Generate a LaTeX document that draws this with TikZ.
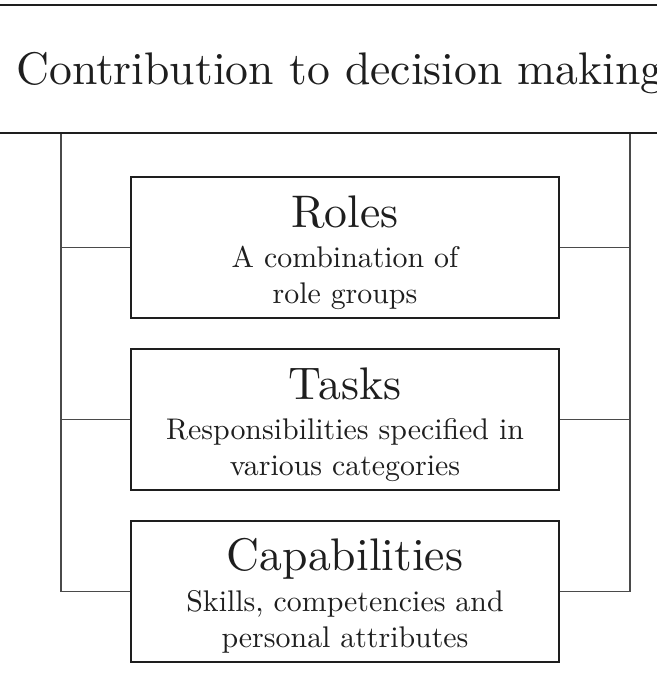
\documentclass[tikz,border=0pt]{standalone}
\usepackage{fontspec}
\setmainfont{lmroman10-regular.otf}
\definecolor{ink}{HTML}{1E1E1E}
\definecolor{rule}{HTML}{4A4A4A}
\newcommand{\stagehead}[1]{{\fontsize{26}{30}\selectfont\rule{0pt}{28.5pt}#1}}
\newcommand{\stagefoot}{\rule[-8.5pt]{0pt}{8.5pt}}
\begin{document}
\begin{tikzpicture}[x=0.02cm,y=-0.02cm,node distance=3.44cm]
	\useasboundingbox (0,0) rectangle (656,688);
	\tikzstyle{banner}=[draw=ink, line width=1.2pt, minimum width=14cm, minimum height=2.56cm, inner sep=0pt, text height=20pt, text depth=1.8pt, text=ink, font=\fontsize{26}{30}\selectfont]
	\tikzstyle{stage}=[draw=ink, line width=1.1pt, minimum width=8.56cm, minimum height=2.82cm, inner sep=0pt, align=center, text=ink, font=\fontsize{17}{20}\selectfont]
	\tikzstyle{link}=[draw=rule, line width=0.8pt]
	\node[banner] (title) at (340,69) {Contribution to decision making};
	\node[stage] (roles) at (345,247.5) {\stagehead{Roles}\\[3.3pt] A combination of\\ role groups\stagefoot};
	\node[stage, below of=roles] (tasks) {\stagehead{Tasks}\\[3.3pt] Responsibilities specified in\\ various categories\stagefoot};
	\node[stage, below of=tasks] (capab) {\stagehead{Capabilities}\\[3.3pt] Skills, competencies and\\ personal attributes\stagefoot};
	
	\coordinate (lx) at (61,0);
	\coordinate (rx) at (630,0);
	\begin{scope}[link]
		\draw	(lx |- title.south) -- (lx |- capab.west) -- (capab.west);
		\draw	(rx |- title.south) -- (rx |- capab.east) -- (capab.east);
		\draw	(roles.west) -- (lx |- roles.west);
		\draw	(roles.east) -- (rx |- roles.east);
		\draw	(tasks.west) -- (lx |- tasks.west);
		\draw	(tasks.east) -- (rx |- tasks.east);
	\end{scope}
\end{tikzpicture}
\end{document}
